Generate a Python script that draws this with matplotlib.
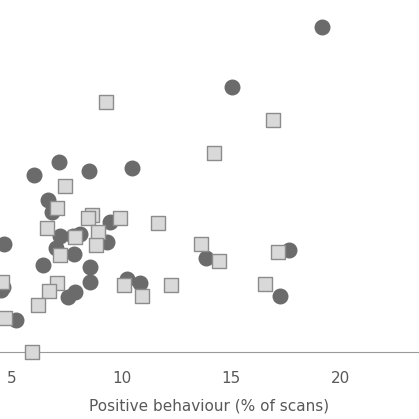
import matplotlib
matplotlib.use("Agg")
import matplotlib.pyplot as plt

circle_x = [19.15, 15.04, 7.14, 6.0, 8.51, 10.48, 6.64, 6.82, 9.47, 4.63, 7.19, 7.78, 8.1, 7.01, 9.34,
            7.83, 6.41, 8.56, 4.59, 10.25, 10.84, 8.56, 7.56, 7.87, 13.86, 17.65, 17.24, 5.18, 4.5]
circle_y = [32.5, 26.5, 19.0, 17.7, 18.1, 18.4, 15.2, 14.0, 13.0, 10.8, 11.6, 11.6, 11.8, 10.4, 11.0,
            9.8, 8.7, 8.5, 6.5, 7.3, 6.9, 7.0, 5.5, 6.0, 9.4, 10.2, 5.6, 3.2, 6.2]

square_x = [9.29, 16.92, 14.22, 7.42, 7.05, 8.65, 8.47, 9.93, 11.66, 6.6, 7.87, 8.93, 8.83, 13.63,
            14.45, 17.14, 7.19, 7.05, 6.69, 10.11, 10.93, 12.26, 16.55, 6.19, 4.68, 4.54, 5.91]
square_y = [25.0, 23.2, 19.9, 16.6, 14.4, 13.7, 13.4, 13.4, 12.9, 12.4, 11.5, 12.0, 10.7, 10.8,
            9.1, 10.0, 9.7, 6.9, 6.1, 6.7, 5.6, 6.7, 6.8, 4.7, 3.4, 7.0, 0.0]

xticks = [5, 10, 15, 20]

fig = plt.figure(figsize=(4.19, 4.19), dpi=100)
ax = fig.add_axes([0, 0.16, 1, 0.84])

ax.scatter(circle_x, circle_y, s=110, marker="o", color="#6b6b6b", zorder=3, clip_on=False)
ax.scatter(square_x, square_y, s=110, marker="s", facecolor="#d9d9d9", edgecolor="#8c8c8c",
           linewidth=1.0, zorder=3, clip_on=False)

ax.set_xlim(4.45, 23.58)
ax.set_ylim(0, 35.2)
ax.set_xticks(xticks)
ax.set_yticks([])
for s in ["top", "left", "right"]:
    ax.spines[s].set_visible(False)
ax.spines["bottom"].set_color("#9a9a9a")
ax.tick_params(axis="x", length=0, pad=14, labelsize=11, labelcolor="#595959")
ax.set_xlabel("Positive behaviour (% of scans)", fontsize=11, color="#595959", labelpad=9)

fig.savefig("out.png", dpi=100)
